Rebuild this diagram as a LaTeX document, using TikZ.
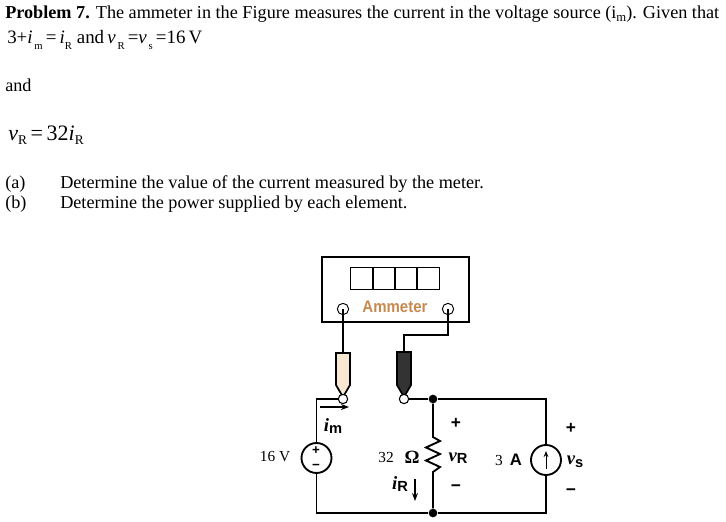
\documentclass[tikz,border=0pt]{standalone}
\usepackage{fontspec}
\setmainfont{Liberation Serif}
\setsansfont{Liberation Sans}
\usepackage{xcolor}
\usetikzlibrary{arrows.meta,calc,positioning}
\definecolor{meterlabel}{HTML}{C68A50}
\definecolor{probelight}{HTML}{F8E8D2}
\definecolor{probedark}{HTML}{333333}
\newcommand{\low}[1]{\raisebox{-0.4ex}{\fontsize{9.5}{10}\selectfont #1}}
\newcommand{\lowm}[1]{\raisebox{-0.8ex}{\fontsize{8}{9}\selectfont #1}}
\newcommand{\lowb}[1]{\raisebox{-0.45ex}{\fontsize{10}{11}\selectfont #1}}
\newcommand{\varb}[2]{{\bfseries\itshape\fontsize{14}{15}\selectfont #1}\raisebox{-0.35ex}{\sffamily\bfseries\fontsize{11}{12}\selectfont #2}}
\tikzset{%
	textline/.style = {anchor=base west, inner sep=0pt, font=\fontsize{13.65}{15}\selectfont},
	circlabel/.style= {inner sep=0pt, font=\fontsize{11.5}{13}\selectfont},
	signlabel/.style= {inner sep=0pt, font=\sffamily\bfseries\fontsize{13}{14}\selectfont},
	marklabel/.style= {inner sep=0pt, font=\sffamily\bfseries\fontsize{10}{11}\selectfont},
	wire/.style     = {line width=1.4pt},
	thinwire/.style = {line width=0.7pt},
	source/.style   = {draw, circle, line width=1.4pt, minimum size=22.5pt, inner sep=0pt},
	terminal/.style = {draw, circle, fill=white, line width=0.7pt, minimum size=8.5pt, inner sep=0pt},
	contact/.style  = {draw, circle, fill=white, line width=0.8pt, minimum size=7pt, inner sep=0pt},
	junction/.style = {circle, fill=black, minimum size=6.5pt, inner sep=0pt},
	probe/.style    = {draw, line width=1.3pt, line join=miter},
	arrow/.style    = {line width=0.9pt,-{Stealth[length=6pt,width=4.5pt]}},
}
\begin{document}
\begin{tikzpicture}[x=0.75pt,y=-0.75pt]
	\useasboundingbox (0,0) rectangle (726,522);
	
	% problem text
	\node[textline] (t1) at (5,18) {\textbf{Problem 7.} The ammeter in the Figure measures the current in the voltage source (i\low{m}). Given that};
	\node[textline] (t2) at (7,43) {\fontsize{14.2}{15}\selectfont 3+\textit{i}\lowm{\,m}\,=\,\textit{i}\lowm{R} and\,\textit{v}\lowm{\,R}\,=\textit{v}\lowm{\,s}\,=16\,V};
	\node[textline] (t3) at (5,91) {and};
	\node[textline] (t4) at (8,140) {\fontsize{16.5}{18}\selectfont \textit{v}\lowb{R}\,=\,32\textit{i}\lowb{R}};
	\node[textline] (a1) at (5,188) {(a)};
	\node[textline] (a2) at (60,188) {Determine the value of the current measured by the meter.};
	\node[textline] (b1) at (5,208) {(b)};
	\node[textline] (b2) at (60,208) {Determine the power supplied by each element.};
	
	% meter
	\node[draw, line width=1.4pt, minimum width=110pt, minimum height=48.75pt, inner sep=0pt] (meter) at (395.5,289.5) {};
	\foreach \i in {0,1,2,3}
		\node[draw, thinwire, minimum width=16.6pt, minimum height=16.6pt, inner sep=0pt] (digit\i) at (362+\i*22,278.5) {};
	\node[inner sep=0pt, text=meterlabel, font=\sffamily\bfseries\fontsize{12.5}{14}\selectfont] (name) at (395,307) {\scalebox{0.9}[1]{Ammeter}};
	\node[terminal] (ta) at (343,309) {};
	\node[terminal] (tb) at (448,309) {};
	
	% probes
	\draw[probe, fill=probelight] (336,353) -- (350,353) -- (350,385) -- (343,397) -- (336,385) -- cycle;
	\draw[probe, fill=probedark] (397,352) -- (411,352) -- (411,385) -- (404,397) -- (397,385) -- cycle;
	\coordinate (pa) at (343,353);
	\coordinate (pb) at (404,352);
	\draw[wire] (ta.center) -- (pa);
	\draw[wire] (tb.center) -- (448,335) -- (404,335) -- (pb);
	\node[contact] (ca) at (343,399) {};
	\node[contact] (cb) at (404,399) {};
	
	% circuit
	\node[source] (vs) at (316.5,458) {};
	\node[source] (is) at (546,460) {};
	\node[junction] (jt) at (433,399) {};
	\node[junction] (jb) at (433,513) {};
	\coordinate (rt) at (433,437);
	\coordinate (rb) at (433,476);
	\draw[wire] (ca) -- (316.5,399) -- (vs.north);
	\draw[wire] (vs.south) -- (316.5,513) -- (jb);
	\draw[wire] (cb) -- (jt) -- (546,399) -- (is.north);
	\draw[wire] (is.south) -- (546,513) -- (jb);
	\draw[wire] (jt) -- (rt) -- (440,441) -- (426,447.5) -- (440,454) -- (426,460.5) -- (440,467) -- (433,472) -- (rb) -- (jb);
	
	% source marks
	\node[marklabel] (vp) at (316,451) {+};
	\node[marklabel] (vm) at (316,466.5) {\textminus};
	\coordinate (ib) at (546,469);
	\coordinate (it) at (546,451);
	\draw[line width=0.7pt,-{Stealth[length=4.5pt,width=3.5pt]}] (ib) -- (it);
	
	% labels
	\coordinate (ima) at (320,407);
	\coordinate (imb) at (349,407);
	\draw[arrow] (ima) -- (imb);
	\node[circlabel] (im) at (333,426) {\varb{i}{m}};
	\node[circlabel] (lv) at (275,457) {16 V};
	\node[circlabel] (lr) at (386,457) {32};
	\node[inner sep=0pt, font=\bfseries\fontsize{14}{15}\selectfont] (om) at (412,457) {Ω};
	\node[circlabel] (vr) at (458,458) {\varb{v}{R}};
	\node[circlabel] (ir) at (400,484) {\varb{i}{R}};
	\coordinate (ira) at (415,479);
	\coordinate (irb) at (415,501);
	\draw[arrow] (ira) -- (irb);
	\node[signlabel] (rp) at (456,423) {+};
	\node[signlabel] (rm) at (456,488) {\textminus};
	\node[circlabel] (l3) at (499,460) {3};
	\node[inner sep=0pt, font=\sffamily\bfseries\fontsize{12.5}{14}\selectfont] (la) at (516,460) {A};
	\node[circlabel] (vs2) at (575,462) {\varb{v}{s}};
	\node[signlabel] (sp) at (571,428) {+};
	\node[signlabel] (sm) at (571,492) {\textminus};
\end{tikzpicture}
\end{document}
